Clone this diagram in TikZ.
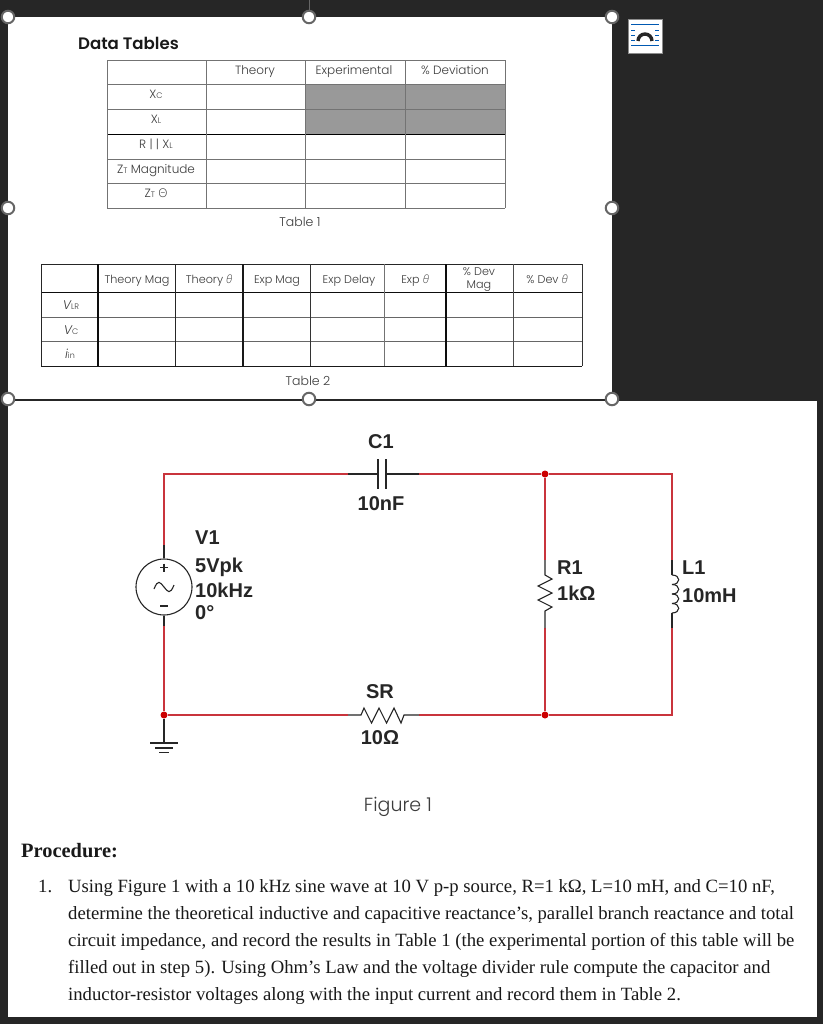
\documentclass[tikz,border=0pt]{standalone}
\usepackage{fontspec}
\setmainfont{Liberation Serif}
\newfontfamily\gothic{Poppins Light}
\newfontfamily\greekfont{Open Sans Light}
\newfontfamily\partfont{Liberation Sans}
\usetikzlibrary{positioning}
\definecolor{darkbg}{HTML}{262626}
\definecolor{wirered}{HTML}{C9343C}
\definecolor{tabletext}{HTML}{3C3C3C}
\newcommand{\lowtxt}[1]{{\fontsize{8}{8}\selectfont #1}}
\tikzset{
	cell/.style={inner sep=0pt,anchor=base,text=tabletext,font=\gothic\fontsize{11.2}{13}\selectfont,align=center},
	cellbig/.style={cell,font=\gothic\fontsize{12}{14}\selectfont},
	caption/.style={inner sep=0pt,text=tabletext,font=\gothic\fontsize{12.5}{14}\selectfont},
	part/.style={inner sep=0pt,text=black!85,font=\partfont\bfseries\fontsize{20}{22}\selectfont},
	para/.style={inner sep=0pt,anchor=base west,text=black!90,font=\fontsize{18.7}{20}\selectfont},
	wire/.style={draw=wirered,line width=1.4pt},
	lead/.style={draw=black!85,line width=1.1pt},
	dot/.style={circle,fill=red!80!black,inner sep=0pt,minimum size=7pt},
	handle/.style={circle,fill=white,draw=black!60,line width=2pt,inner sep=0pt,minimum size=12.5pt}
}
\begin{document}
\begin{tikzpicture}[x=1pt,y=-1pt]
	\useasboundingbox (0,0) rectangle (823,1024);
	\fill[darkbg] (0,0) rectangle (823,1024);
	\fill[white] (8,17) rectangle (612,399);
	\fill[white] (8,401) rectangle (817,1017);
	\draw[darkbg,line width=2pt] (8,399.5) -- (612,399.5);
	\draw[black!60,line width=1pt] (309,0) -- (309,17);
	% table 1
	\fill[black!40] (305,85) rectangle (505,134);
	\foreach \y in {60.5,84.5,109,159,183,208.5} { \draw[black!55,line width=.8pt] (107,\y) -- (505,\y);}
	\draw[black,line width=.8pt] (107,134) -- (505,134);
	\foreach \x in {107,206,305,405,505} { \draw[black!55,line width=.8pt] (\x,60.5) -- (\x,208.5);}
	% table 2
	\foreach \y / \g in {264/85,292/95,317/60,341/60,366/90} { \draw[black!\g,line width=1pt] (41,\y) -- (582,\y);}
	\foreach \x / \g / \w in {41/85/1,98/95/1.3,175/85/.8,243/90/1.3,310/80/.8,384/55/.8,446/95/1.2,513/70/.8,582/80/1} { \draw[black!\g,line width=\w pt] (\x,264) -- (\x,366);}
	% table texts
	\node[inner sep=0pt,text=black!90,font=\gothic\bfseries\fontsize{16.6}{19}\selectfont] (title) at (128.5,43) {Data Tables};
	\foreach \x / \y / \n / \txt in {255/75/a/Theory,354/75/b/Experimental,455/75/c/\% Deviation,156/99/d/X\lowtxt{C},156/124/e/X\lowtxt{L},156/149/f/R\ |\ |\ X\lowtxt{L},156/174/g/Z\lowtxt{T} Magnitude,156/198/h/Z\lowtxt{T} {\greekfont Θ}} {
		\node[cellbig] (one\n) at (\x,\y) {\txt};}
	\foreach \x / \y / \n / \txt in {137/283/a/Theory Mag,209/283/b/Theory {\greekfont\itshape θ},277/283/c/Exp Mag,349/283/d/Exp Delay,415/283/e/Exp {\greekfont\itshape θ},547/283/g/\% Dev {\greekfont\itshape θ},71/309/h/{\itshape\fontsize{12.5}{14}\selectfont V}\lowtxt{LR},71/334/i/{\itshape\fontsize{12.5}{14}\selectfont V}\lowtxt{C},70/358/j/{\itshape\fontsize{12.5}{14}\selectfont i}\lowtxt{in}} {
		\node[cell] (two\n) at (\x,\y) {\txt};}
	\node[cell,anchor=center] (twof) at (479,279.5) {\% Dev\\Mag};
	\node[caption] (capone) at (300,222) {Table 1};
	\node[caption] (captwo) at (308,380.5) {Table 2};
	% circuit
	\coordinate (tl) at (164,474);
	\coordinate (tr) at (672,474);
	\coordinate (bl) at (164,715);
	\coordinate (br) at (672,715);
	\node[dot] (jt) at (545,474) {};
	\node[dot] (jb) at (545,715) {};
	\node[dot] (jl) at (164,715) {};
	\coordinate (vtop) at (164,545);
	\coordinate (vbot) at (164,626);
	\coordinate (cl) at (348,474);
	\coordinate (cr) at (419,474);
	\coordinate (sl) at (348,715);
	\coordinate (sr) at (419,715);
	\coordinate (rtt) at (545,560);
	\coordinate (rbb) at (545,628);
	\coordinate (ltt) at (672,560);
	\coordinate (lbb) at (672,628);
	\draw[wire] (vtop) -- (tl) -- (cl);
	\draw[wire] (cr) -- (jt) -- (tr) -- (ltt);
	\draw[wire] (jt) -- (rtt);
	\draw[wire] (vbot) -- (jl) -- (sl);
	\draw[wire] (sr) -- (jb) -- (br) -- (lbb);
	\draw[wire] (jb) -- (rbb);
	\node[circle,draw=black!85,line width=1.1pt,fill=white,inner sep=0pt,minimum size=56pt] (vsrc) at (164,587) {};
	\draw[lead] (vtop) -- (vsrc.north);
	\draw[lead] (vsrc.south) -- (vbot);
	\draw[lead] (164,563.5) -- (164,571.5) (160,567.5) -- (168,567.5);
	\draw[lead] (160,606) -- (168,606);
	\draw[lead] (154,589) .. controls (158,579) and (160,582) .. (164,587) .. controls (168,592) and (170,595) .. (174,585);
	% C1
	\coordinate (ca) at (378,474);
	\coordinate (cb) at (386,474);
	\draw[lead] (cl) -- (ca) (cb) -- (cr);
	\draw[lead,line width=1.6pt] (378,459) -- (378,489) (386,459) -- (386,489);
	% SR
	\draw[lead] (sl) -- ++(13,0) -- ++(3,-7) -- ++(7.5,15) -- ++(7.5,-15) -- ++(7.5,15) -- ++(7.5,-15) -- ++(7,15) -- ++(3,-8) -- (sr);
	% R1
	\draw[lead] (rtt) -- ++(0,15) -- ++(7,4) -- ++(-14,7) -- ++(14,7) -- ++(-14,7) -- ++(14,7) -- ++(-7,4) -- (rbb);
	% L1
	\draw[lead] (ltt) -- ++(0,15) coordinate (lc);
	\foreach \i in {0,1,2,3} { \draw[lead] (lc) ++(0,{\i*9.5}) .. controls +(9,0) and +(9,0) .. +(0,9.5);}
	\draw[lead] (672,613) -- (lbb);
	% ground
	\draw[lead] (jl) -- (164,743);
	\draw[lead] (150,743) -- (178,743) (155,748) -- (173,748) (159,752.5) -- (169,752.5);
	% part labels
	\node[part] (cname) at (381,442) {C1};
	\node[part] (cval) at (381,504) {10nF};
	\node[part,anchor=west] (vname) at (195,538) {V1};
	\node[part,anchor=west] (vamp) at (195,567) {5Vpk};
	\node[part,anchor=west] (vfreq) at (195,590) {10kHz};
	\node[part,anchor=west] (vphase) at (195,613) {0°};
	\node[part] (sname) at (380,692) {SR};
	\node[part] (sval) at (380,738) {10Ω};
	\node[part,anchor=west] (rname) at (557,568) {R1};
	\node[part,anchor=west] (rval) at (557,593) {1kΩ};
	\node[part,anchor=west] (lname) at (682,568) {L1};
	\node[part,anchor=west] (lval) at (682,596) {10mH};
	\node[inner sep=0pt,text=tabletext,font=\gothic\fontsize{19}{21}\selectfont] (figcap) at (398,807) {Figure 1};
	% procedure
	\node[para,font=\bfseries\fontsize{20.4}{22}\selectfont] (proc) at (21,857) {Procedure:};
	\node[para] (num) at (38,892) {1.};
	\foreach \y / \n / \txt in {
		892/a/{Using Figure 1 with a 10 kHz sine wave at 10 V p-p source, R=1 kΩ, L=10 mH, and C=10 nF,},
		919/b/{determine the theoretical inductive and capacitive reactance’s, parallel branch reactance and total},
		946/c/{circuit impedance, and record the results in Table 1 (the experimental portion of this table will be},
		973/d/{filled out in step 5). Using Ohm’s Law and the voltage divider rule compute the capacitor and},
		1000/e/{inductor-resistor voltages along with the input current and record them in Table 2.}} {
		\node[para] (line\n) at (68,\y) {\txt};}
	% handles
	\foreach \x / \y / \n in {8/17/a,309/17/b,612/17/c,8/208/d,612/208/e,8/399/f,309/399/g,612/399/h} {
		\node[handle] (hd\n) at (\x,\y) {};}
	% layout icon
	\node[draw=black!45,fill=white,line width=.8pt,inner sep=0pt,minimum size=34pt] (icon) at (645,36) {};
	\foreach \y in {25,46} { \draw[blue!50!cyan!70!black,line width=1pt] (631,\y) -- (659,\y);}
	\foreach \y in {30,35,40} { \draw[blue!50!cyan!70!black,line width=.7pt] (631,\y) -- (635,\y) (655,\y) -- (659,\y);}
	\draw[darkbg,line width=3.4pt] (638,41) arc[start angle=180,end angle=360,radius=7];
\end{tikzpicture}
\end{document}
